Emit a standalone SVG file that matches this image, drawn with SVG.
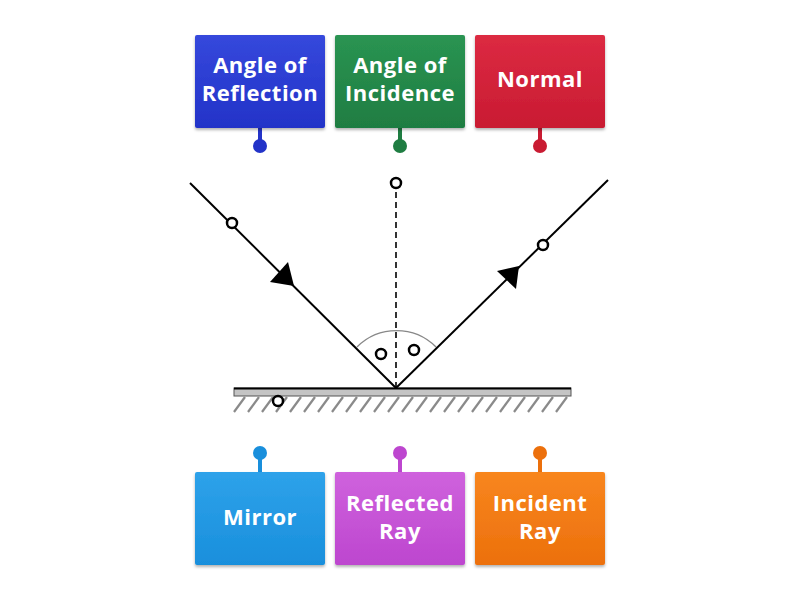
<svg xmlns="http://www.w3.org/2000/svg" width="800" height="600" viewBox="0 0 800 600">
<style>
.lbl{font-family:"Open Sans","Noto Sans","Liberation Sans",sans-serif;font-weight:bold;font-size:22px;letter-spacing:0.5px;fill:#fff;text-anchor:middle}
.stem{stroke-width:4}
.ray{stroke:#000;stroke-width:2;fill:none}
.pt{fill:#fff;stroke:#000;stroke-width:2.5}
.hatch{stroke:#8a8a8a;stroke-width:2.2}
</style>
<defs>
<filter id="sh" x="-10%" y="-10%" width="120%" height="130%">
<feDropShadow dx="0" dy="2" stdDeviation="1.5" flood-color="#000" flood-opacity="0.3"/>
</filter>
<linearGradient id="gb" x1="0" y1="0" x2="0" y2="1"><stop offset="0" stop-color="#3548dc"/><stop offset="1" stop-color="#2333c8"/></linearGradient>
<linearGradient id="gg" x1="0" y1="0" x2="0" y2="1"><stop offset="0" stop-color="#2a9452"/><stop offset="1" stop-color="#1f7d42"/></linearGradient>
<linearGradient id="gr" x1="0" y1="0" x2="0" y2="1"><stop offset="0" stop-color="#dc2a42"/><stop offset="1" stop-color="#c91b32"/></linearGradient>
<linearGradient id="gl" x1="0" y1="0" x2="0" y2="1"><stop offset="0" stop-color="#2ea2ea"/><stop offset="1" stop-color="#198fdc"/></linearGradient>
<linearGradient id="gp" x1="0" y1="0" x2="0" y2="1"><stop offset="0" stop-color="#cf62dd"/><stop offset="1" stop-color="#bd46cf"/></linearGradient>
<linearGradient id="go" x1="0" y1="0" x2="0" y2="1"><stop offset="0" stop-color="#f8861e"/><stop offset="1" stop-color="#ec700c"/></linearGradient>
</defs>

<g id="figure">
  <rect x="234" y="388" width="337" height="8" fill="#c4c4c4" stroke="#555" stroke-width="1"/>
  <line x1="234" y1="388.5" x2="571" y2="388.5" stroke="#000" stroke-width="2"/>
  <g id="hatches">
    <line class="hatch" x1="234" y1="412" x2="245" y2="397"/>
    <line class="hatch" x1="248" y1="412" x2="259" y2="397"/>
    <line class="hatch" x1="262" y1="412" x2="273" y2="397"/>
    <line class="hatch" x1="276" y1="412" x2="287" y2="397"/>
    <line class="hatch" x1="290" y1="412" x2="301" y2="397"/>
    <line class="hatch" x1="304" y1="412" x2="315" y2="397"/>
    <line class="hatch" x1="318" y1="412" x2="329" y2="397"/>
    <line class="hatch" x1="332" y1="412" x2="343" y2="397"/>
    <line class="hatch" x1="346" y1="412" x2="357" y2="397"/>
    <line class="hatch" x1="360" y1="412" x2="371" y2="397"/>
    <line class="hatch" x1="374" y1="412" x2="385" y2="397"/>
    <line class="hatch" x1="388" y1="412" x2="399" y2="397"/>
    <line class="hatch" x1="402" y1="412" x2="413" y2="397"/>
    <line class="hatch" x1="416" y1="412" x2="427" y2="397"/>
    <line class="hatch" x1="430" y1="412" x2="441" y2="397"/>
    <line class="hatch" x1="444" y1="412" x2="455" y2="397"/>
    <line class="hatch" x1="458" y1="412" x2="469" y2="397"/>
    <line class="hatch" x1="472" y1="412" x2="483" y2="397"/>
    <line class="hatch" x1="486" y1="412" x2="497" y2="397"/>
    <line class="hatch" x1="500" y1="412" x2="511" y2="397"/>
    <line class="hatch" x1="514" y1="412" x2="525" y2="397"/>
    <line class="hatch" x1="528" y1="412" x2="539" y2="397"/>
    <line class="hatch" x1="542" y1="412" x2="553" y2="397"/>
    <line class="hatch" x1="556" y1="412" x2="567" y2="397"/>
  </g>
  <line x1="396" y1="388" x2="396" y2="192" stroke="#000" stroke-width="1.6" stroke-dasharray="6,4"/>
  <path d="M357 347 A56 56 0 0 1 436 347" fill="none" stroke="#888" stroke-width="1.3"/>
  <line class="ray" x1="190" y1="183" x2="396" y2="388"/>
  <line class="ray" x1="396" y1="388" x2="608" y2="180"/>
  <polygon points="294,286 270,282 288,262" fill="#000"/>
  <polygon points="519,266 516,289 497,271" fill="#000"/>
</g>

<g id="connectors">
  <line class="stem" x1="260" y1="128" x2="260" y2="146" stroke="#2333c8"/>
  <line class="stem" x1="400" y1="128" x2="400" y2="146" stroke="#1f7d42"/>
  <line class="stem" x1="540" y1="128" x2="540" y2="146" stroke="#c91b32"/>
  <circle cx="260" cy="146" r="7" fill="#2333c8"/>
  <circle cx="400" cy="146" r="7" fill="#1f7d42"/>
  <circle cx="540" cy="146" r="7" fill="#c91b32"/>
  <line class="stem" x1="260" y1="453" x2="260" y2="472" stroke="#198fdc"/>
  <line class="stem" x1="400" y1="453" x2="400" y2="472" stroke="#bd46cf"/>
  <line class="stem" x1="540" y1="453" x2="540" y2="472" stroke="#ec700c"/>
  <circle cx="260" cy="453" r="7" fill="#198fdc"/>
  <circle cx="400" cy="453" r="7" fill="#bd46cf"/>
  <circle cx="540" cy="453" r="7" fill="#ec700c"/>
</g>

<g id="points">
  <circle class="pt" cx="232" cy="223" r="5"/>
  <circle class="pt" cx="396" cy="183" r="5"/>
  <circle class="pt" cx="543" cy="245" r="5"/>
  <circle class="pt" cx="381" cy="354" r="5"/>
  <circle class="pt" cx="414" cy="350" r="5"/>
  <circle class="pt" cx="278" cy="401" r="5"/>
</g>

<g id="angle-of-reflection">
  <rect x="195" y="35" width="130" height="93" rx="2" fill="url(#gb)" filter="url(#sh)"/>
  <text class="lbl" x="260" y="73">Angle of</text>
  <text class="lbl" x="260" y="101">Reflection</text>
</g>
<g id="angle-of-incidence">
  <rect x="335" y="35" width="130" height="93" rx="2" fill="url(#gg)" filter="url(#sh)"/>
  <text class="lbl" x="400" y="73">Angle of</text>
  <text class="lbl" x="400" y="101">Incidence</text>
</g>
<g id="normal">
  <rect x="475" y="35" width="130" height="93" rx="2" fill="url(#gr)" filter="url(#sh)"/>
  <text class="lbl" x="540" y="87">Normal</text>
</g>
<g id="mirror">
  <rect x="195" y="472" width="130" height="93" rx="2" fill="url(#gl)" filter="url(#sh)"/>
  <text class="lbl" x="260" y="525">Mirror</text>
</g>
<g id="reflected-ray">
  <rect x="335" y="472" width="130" height="93" rx="2" fill="url(#gp)" filter="url(#sh)"/>
  <text class="lbl" x="400" y="511">Reflected</text>
  <text class="lbl" x="400" y="539">Ray</text>
</g>
<g id="incident-ray">
  <rect x="475" y="472" width="130" height="93" rx="2" fill="url(#go)" filter="url(#sh)"/>
  <text class="lbl" x="540" y="511">Incident</text>
  <text class="lbl" x="540" y="539">Ray</text>
</g>
</svg>
